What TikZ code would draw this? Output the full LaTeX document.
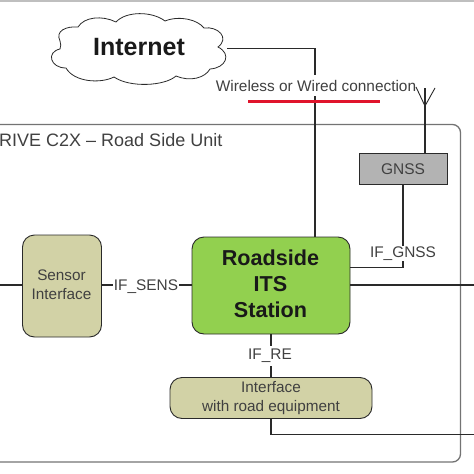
\documentclass[tikz,border=0pt]{standalone}
\usepackage{fontspec}
\setmainfont{Liberation Sans}
\definecolor{linec}{HTML}{2A2A2A}
\definecolor{txtc}{HTML}{404040}
\definecolor{tan}{HTML}{D2D2A6}
\definecolor{grn}{HTML}{92D04F}
\definecolor{gnssc}{HTML}{B3B3B3}
\definecolor{redl}{HTML}{E0142C}
\tikzset{
  conn/.style={draw=linec,line width=1.4pt},
  ubox/.style={draw=linec,line width=0.9pt,rounded corners=12pt,fill=tan},
  lab/.style={text=txtc,font=\fontsize{15.4}{17}\selectfont,inner sep=1pt,fill=white},
  btxt/.style={text=txtc,font=\fontsize{15.3}{18.5}\selectfont,align=center,inner sep=0pt}
}
\begin{document}
\begin{tikzpicture}[x=1pt,y=-1pt]
\useasboundingbox (0,0) rectangle (474,474);
\clip (0,0) rectangle (474,474);
\fill[gray!50] (0,0) rectangle (474,2);
% outer unit
\draw[draw=black!55,line width=1.3pt,rounded corners=8pt] (-20,124.5) -- (460.5,124.5) -- (460.5,462) -- (-20,462);
\node[anchor=west,text=txtc,font=\fontsize{18}{20}\selectfont,inner sep=0pt] (title) at (-1,140) {RIVE C2X – Road Side Unit};
% cloud
\draw[draw=linec,line width=0.8pt,fill=white] (60,41)
  .. controls (55,31) and (66,26) .. (78,27)
  .. controls (84,17) and (102,15) .. (116,22)
  .. controls (126,11) and (152,11) .. (165,21)
  .. controls (180,15) and (198,20) .. (204,28)
  .. controls (218,26) and (230,38) .. (218,47)
  .. controls (232,54) and (226,68) .. (210,69)
  .. controls (205,78) and (190,82) .. (176,76)
  .. controls (165,86) and (130,88) .. (114,77)
  .. controls (100,84) and (74,82) .. (66,68)
  .. controls (50,68) and (46,52) .. (60,49)
  .. controls (60,46) and (62,44) .. (60,41) -- cycle;
\coordinate (cloudR) at (227,48.5);
\node[font=\fontsize{25}{28}\bfseries\selectfont,text=black!90,inner sep=0pt] (inet) at (139,47.5) {Internet};
% boxes
\node[draw=linec,line width=0.9pt,fill=gnssc,minimum width=88pt,minimum height=30.5pt,inner sep=0pt,text=txtc,font=\fontsize{15.5}{17}\selectfont] (gnss) at (403,169) {GNSS};
\node[ubox,fill=grn,minimum width=158pt,minimum height=97pt,inner sep=0pt] (its) at (271,285.5) {};
\node[text=black!90,font=\fontsize{21.6}{26}\bfseries\selectfont,align=center,inner sep=0pt] (itstxt) at (270.5,284) {Roadside\\ITS\\Station};
\node[ubox,minimum width=79pt,minimum height=102pt,inner sep=0pt,anchor=center] (sensor) at (62,286) {};
\node[btxt] (sensortxt) at (61.5,284.5) {Sensor\\Interface};
\node[ubox,minimum width=202pt,minimum height=41pt,inner sep=0pt,btxt] (roadif) at (271,398) {Interface\\with road equipment};
% connectors
\coordinate (cornerNet) at (315,48.5);
\coordinate (itsTop) at (315,237);
\draw[conn] (cloudR) -- (cornerNet) -- (itsTop);
\coordinate (antTip) at (425,106);
\coordinate (antTop) at (425,88);
\coordinate (antL) at (416,87);\coordinate (antR) at (435,88);
\node[lab,font=\fontsize{15.4}{17}\selectfont,inner ysep=5pt,inner xsep=0pt] (wl) at (316,85.5) {Wireless or Wired connection};
\coordinate (redA) at (248,101.5);\coordinate (redB) at (380,101.5);
\draw[draw=redl,line width=2.8pt] (redA) -- (redB);
\draw[conn,line width=0.9pt] (antL) -- (antTip) -- (antR);
\draw[conn] (antTop) -- (gnss.north -| antTip);
\coordinate (elbowG) at (403,267.5);
\draw[conn] (gnss.south) -- (elbowG) -- (elbowG -| its.east);
\node[lab] (ifg) at (403,253.5) {IF\_GNSS};
\coordinate (sensL) at (0,285);
\coordinate (itsR) at (474,285);
\draw[conn] (sensL) -- (sensL -| sensor.west);
\draw[conn] (sensL -| sensor.east) -- (sensL -| its.west);
\node[lab] (ifs) at (146,286.5) {IF\_SENS};
\draw[conn] (itsR -| its.east) -- (itsR);
\draw[conn] (its.south) -- (roadif.north);
\node[lab,inner ysep=3pt] (ifr) at (270,356) {IF\_RE};
\coordinate (elbowR) at (271,434.5);
\coordinate (endR) at (474,434.5);
\draw[conn] (roadif.south) -- (elbowR) -- (endR);
\end{tikzpicture}
\end{document}
